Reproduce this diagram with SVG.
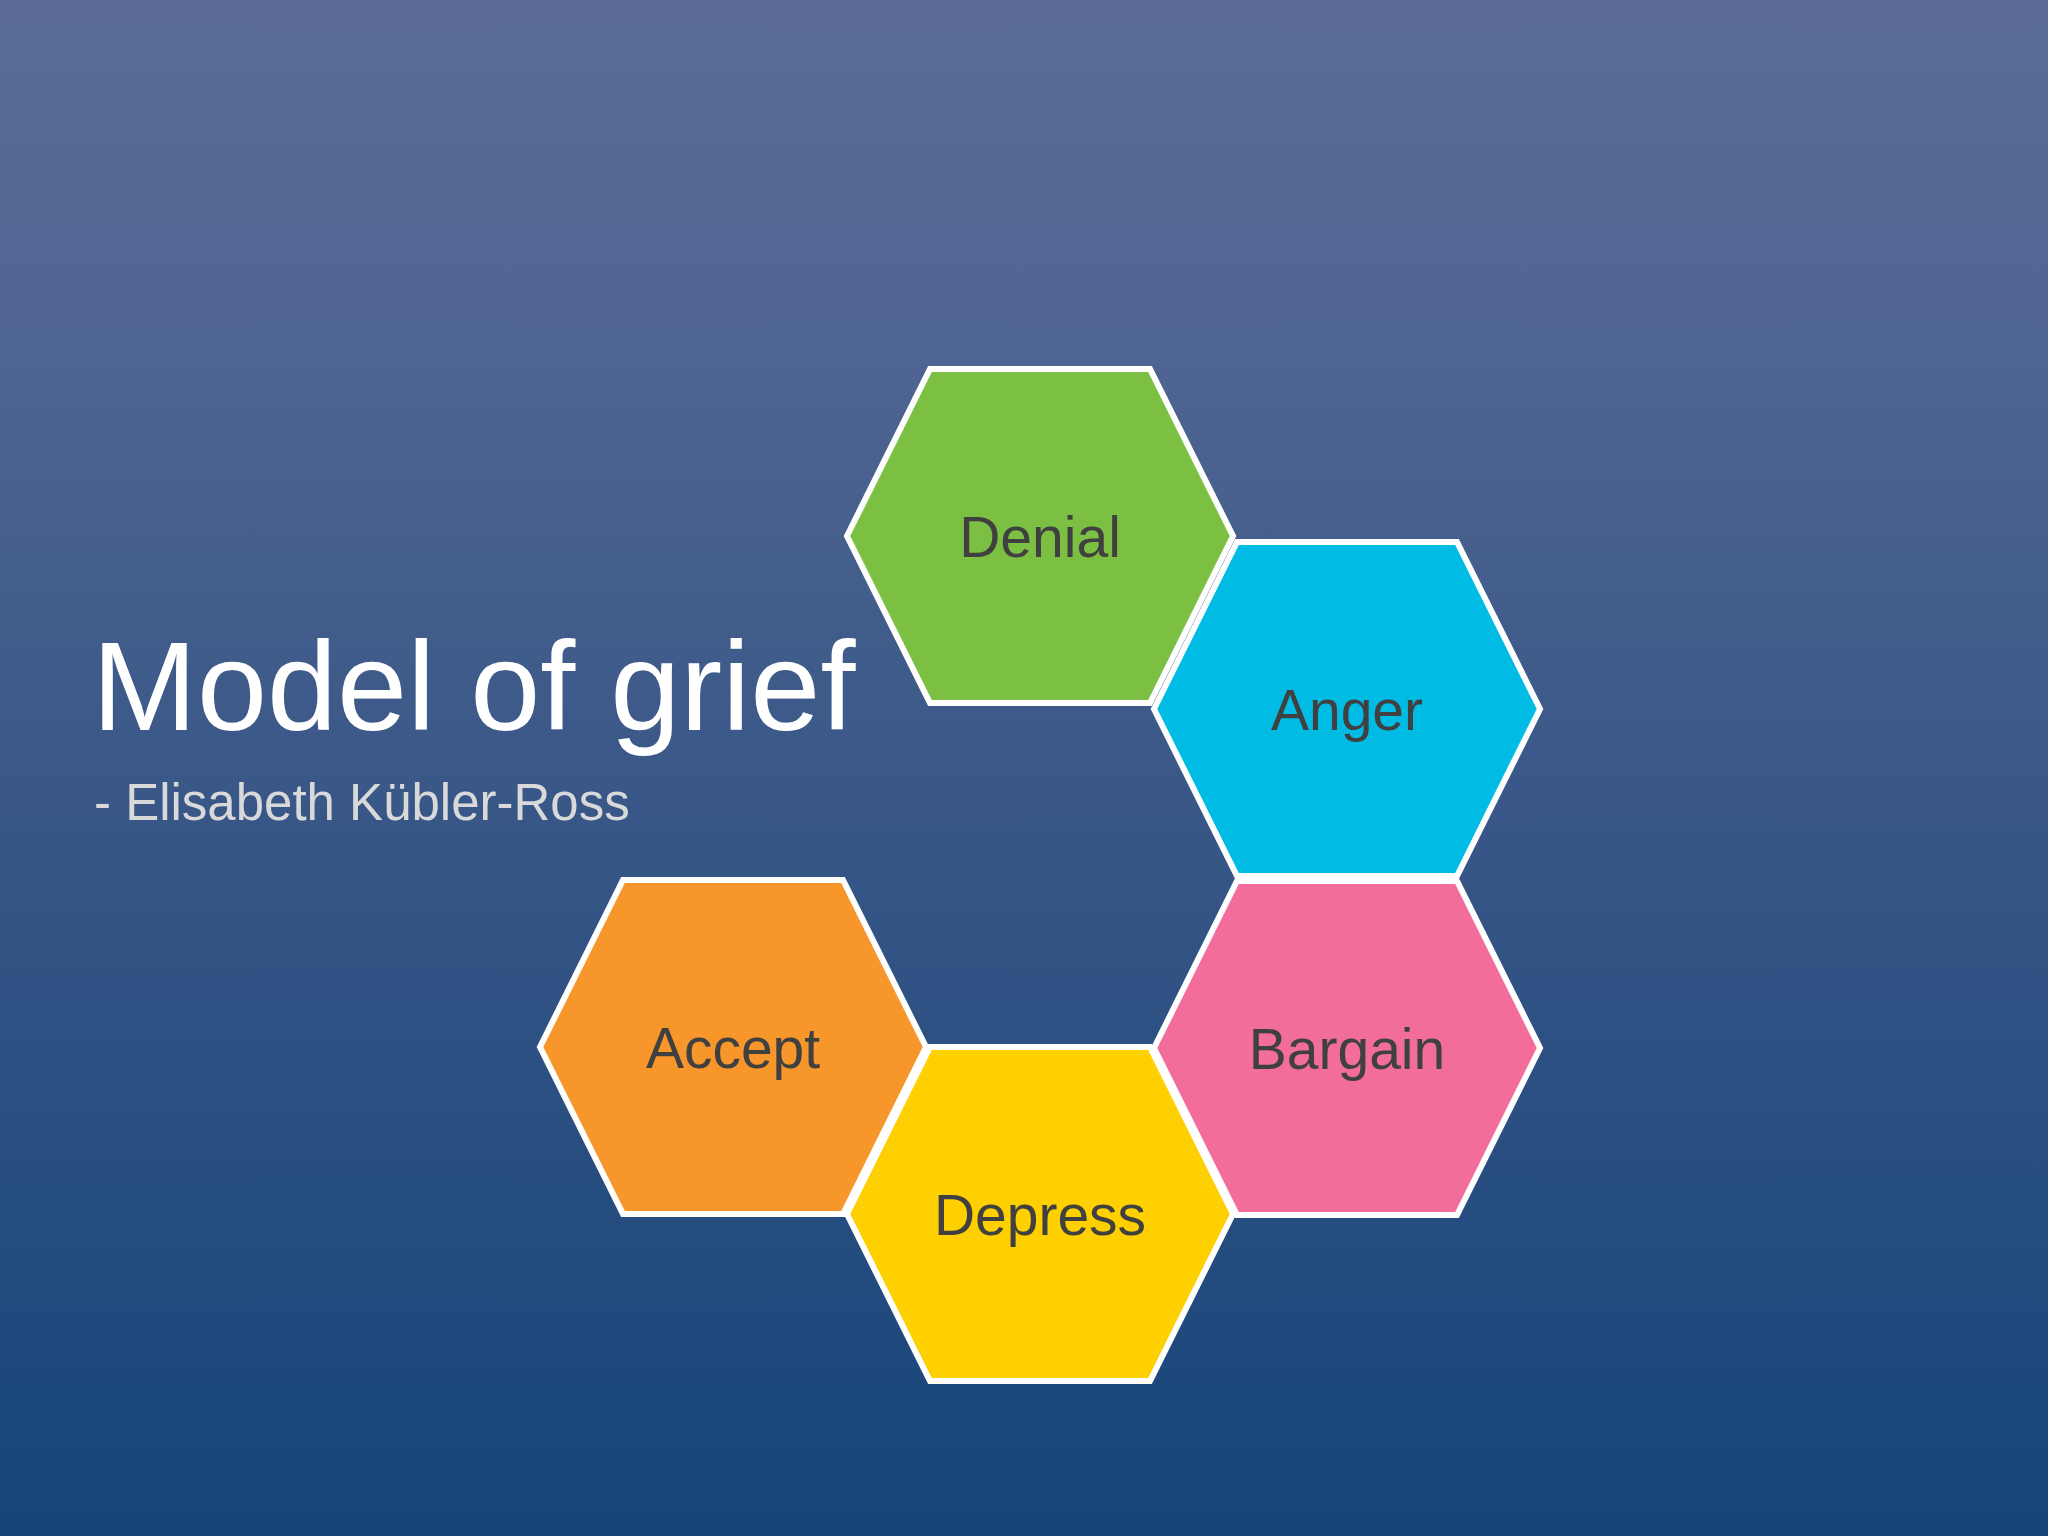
<svg xmlns="http://www.w3.org/2000/svg" width="2048" height="1536" viewBox="0 0 2048 1536">
  <defs>
    <linearGradient id="bg" x1="0" y1="0" x2="0" y2="1">
      <stop offset="0" stop-color="#5a6b97"/>
      <stop offset="0.23" stop-color="#4f6592"/>
      <stop offset="0.5" stop-color="#3a5888"/>
      <stop offset="1" stop-color="#164479"/>
    </linearGradient>
    <polygon id="hex" points="-193,0 -110,-167 110,-167 193,0 110,167 -110,167"/>
  </defs>
  <style>
    .hex { stroke: #ffffff; stroke-width: 6; stroke-linejoin: miter; }
    .lbl { font-family: "Liberation Sans", Arial, sans-serif; font-size: 57px; fill: #404040; text-anchor: middle; }
    .title { font-family: "Liberation Sans", Arial, sans-serif; font-size: 126px; fill: #ffffff; }
    .sub { font-family: "Liberation Sans", Arial, sans-serif; font-size: 51px; fill: #d9d9d9; }
  </style>
  <rect x="0" y="0" width="2048" height="1536" fill="url(#bg)"/>

  <g id="title">
    <text class="title" x="92" y="730">Model of grief</text>
    <text class="sub" x="94" y="820">- Elisabeth Kübler-Ross</text>
  </g>

  <g id="connectors"></g>

  <g id="denial" transform="translate(1040,536)">
    <use href="#hex" class="hex" fill="#7cc043"/>
    <text class="lbl" x="0" y="21">Denial</text>
  </g>
  <g id="anger" transform="translate(1347,709)">
    <use href="#hex" class="hex" fill="#00bce4"/>
    <text class="lbl" x="0" y="21">Anger</text>
  </g>
  <g id="bargain" transform="translate(1347,1048)">
    <use href="#hex" class="hex" fill="#f26d9c"/>
    <text class="lbl" x="0" y="21">Bargain</text>
  </g>
  <g id="accept" transform="translate(733,1047)">
    <use href="#hex" class="hex" fill="#f7962b"/>
    <text class="lbl" x="0" y="21">Accept</text>
  </g>
  <g id="depress" transform="translate(1040,1214)">
    <use href="#hex" class="hex" fill="#ffd000"/>
    <text class="lbl" x="0" y="21">Depress</text>
  </g>
</svg>
